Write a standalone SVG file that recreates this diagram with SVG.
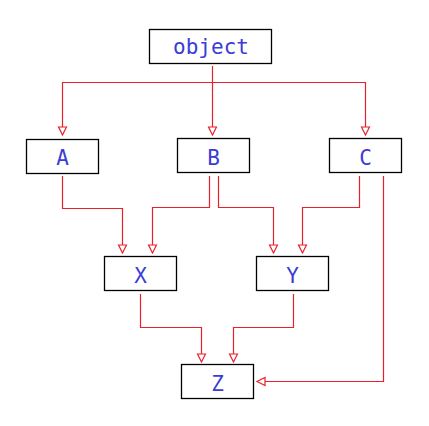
<svg xmlns="http://www.w3.org/2000/svg" width="429" height="426" viewBox="0 0 429 426">
<style>
.box{fill:#fff;stroke:#000;stroke-width:1.3}
.lbl{font-family:"DejaVu Sans Mono","Liberation Mono",monospace;font-size:21px;fill:#3b3bd6;text-anchor:middle}
.edge{fill:none;stroke:#e8202a;stroke-width:1.2}
</style>
<defs>
<marker id="arr" markerUnits="userSpaceOnUse" markerWidth="12" markerHeight="12" refX="9" refY="5" orient="auto" viewBox="0 0 12 10">
<path d="M1,1 L9,5 L1,9 Z" fill="#fff" stroke="#e8202a" stroke-width="1.2"/>
</marker>
</defs>
<rect width="429" height="426" fill="#fff"/>
<g id="connectors">
<path class="edge" d="M212.5,66 V135" marker-end="url(#arr)"/>
<path class="edge" d="M212.5,82.5 H62.5 V135" marker-end="url(#arr)"/>
<path class="edge" d="M212.5,82.5 H365.5 V135" marker-end="url(#arr)"/>
<path class="edge" d="M62.5,176 V208.5 H122.5 V253" marker-end="url(#arr)"/>
<path class="edge" d="M209.5,176 V207.5 H152.5 V253" marker-end="url(#arr)"/>
<path class="edge" d="M218.5,176 V207.5 H273.5 V253" marker-end="url(#arr)"/>
<path class="edge" d="M359.5,176 V207.5 H302.5 V253" marker-end="url(#arr)"/>
<path class="edge" d="M383.5,176 V381.5 H257" marker-end="url(#arr)"/>
<path class="edge" d="M140.5,294 V327.5 H201.5 V362" marker-end="url(#arr)"/>
<path class="edge" d="M293.5,294 V327.5 H233.5 V362" marker-end="url(#arr)"/>
</g>
<g id="node-object"><rect class="box" x="149.5" y="29.5" width="122" height="34"/><text class="lbl" x="211" y="53.5">object</text></g>
<g id="node-A"><rect class="box" x="26.5" y="139.5" width="72" height="34"/><text class="lbl" x="62.5" y="164.5">A</text></g>
<g id="node-B"><rect class="box" x="177.5" y="138.5" width="72" height="34"/><text class="lbl" x="213.5" y="164.5">B</text></g>
<g id="node-C"><rect class="box" x="329.5" y="138.5" width="72" height="34"/><text class="lbl" x="365.5" y="164.5">C</text></g>
<g id="node-X"><rect class="box" x="104.5" y="256.5" width="72" height="34"/><text class="lbl" x="140.5" y="282.5">X</text></g>
<g id="node-Y"><rect class="box" x="256.5" y="256.5" width="72" height="34"/><text class="lbl" x="292.5" y="282.5">Y</text></g>
<g id="node-Z"><rect class="box" x="181.5" y="364.5" width="72" height="34"/><text class="lbl" x="217.5" y="390.5">Z</text></g>
</svg>
